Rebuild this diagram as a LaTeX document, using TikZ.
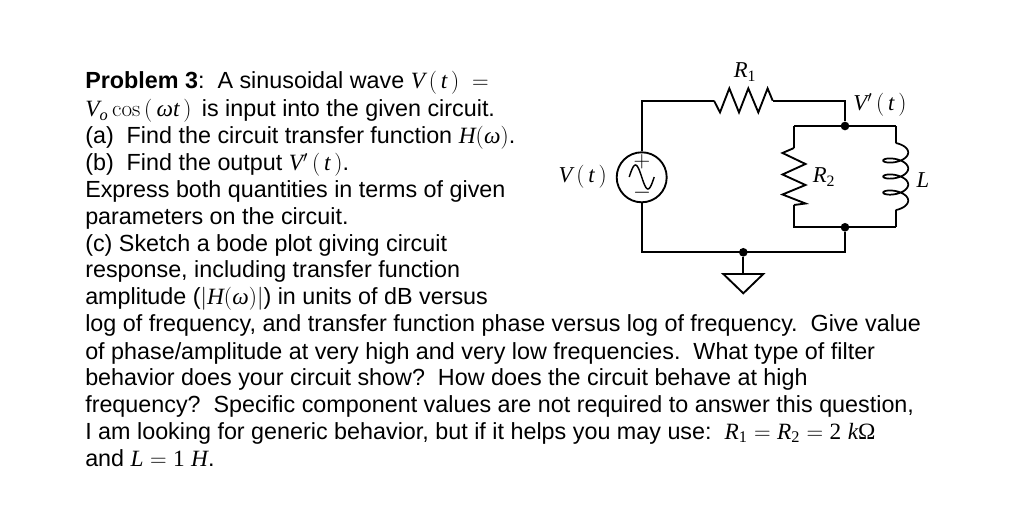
\documentclass[tikz,border=0pt]{standalone}
\usepackage{amsmath}
\usepackage{mathspec}
\setmainfont{Liberation Sans}
\setmathsfont(Digits,Latin,Greek){Liberation Serif}
\usetikzlibrary{positioning,calc}
\tikzstyle{txtline} = [anchor=base west, inner sep=0pt, font=\fontsize{17.5}{21}\selectfont]
\tikzstyle{wire} = [line width=1.4pt, line join=miter]
\tikzstyle{junct} = [circle, fill=black, inner sep=0pt, minimum size=6.5pt]
\tikzstyle{lbl} = [inner sep=0pt, font=\fontsize{17}{20}\selectfont]
\tikzstyle{srcnode} = [circle, draw=black, line width=1.4pt, inner sep=0pt, minimum size=37.5pt]

\begin{document}
\begin{tikzpicture}[x=0.75pt, y=-0.75pt]
        \useasboundingbox (0,0) rectangle (1024,509);

        % Texto
        \node (l1) [txtline] at (85,89) {\textbf{Problem 3}:\ \ A sinusoidal wave $V\,(\,t\,)\;=$};
        \node (l2) [txtline] at (85,117) {$V_o\cos\,(\,\omega t\,)\,$ is input into the given circuit.};
        \node (l3) [txtline] at (85,144) {(a)\ \ Find the circuit transfer function $H(\omega)$.};
        \node (l4) [txtline] at (85,171) {(b)\ \ Find the output $V'\,(\,t\,)$.};
        \node (l5) [txtline] at (85,198) {Express both quantities in terms of given};
        \node (l6) [txtline] at (85,225) {parameters on the circuit.};
        \node (l7) [txtline] at (85,252) {(c) Sketch a bode plot giving circuit};
        \node (l8) [txtline] at (85,278) {response, including transfer function};
        \node (l9) [txtline] at (85,305) {amplitude ($|H(\omega)|$) in units of dB versus};
        \node (l10) [txtline] at (85,332) {log of frequency, and transfer function phase versus log of frequency.\ \ Give value};
        \node (l11) [txtline] at (85,359) {of phase/amplitude at very high and very low frequencies.\ \ What type of filter};
        \node (l12) [txtline] at (85,386) {behavior does your circuit show?\ \ How does the circuit behave at high};
        \node (l13) [txtline] at (85,412) {frequency?\ \ Specific component values are not required to answer this question,};
        \node (l14) [txtline] at (85,439) {I am looking for generic behavior, but if it helps you may use:\ \ $R_1=R_2=2\ k\Omega$};
        \node (l15) [txtline] at (85,466) {and $L=1\ H$.};

        % Blocos
        \node (src) [srcnode] at (641.7,177.3) {};
        \coordinate (tl) at (641.7,100.7);
        \coordinate (r1a) at (714,100.7);
        \coordinate (r1b) at (772.7,100.7);
        \coordinate (tr) at (845,100.7);
        \node (jtop) [junct] at (845,126) {};
        \node (jbot) [junct] at (845,227.3) {};
        \node (jgnd) [junct] at (743.3,252.3) {};
        \coordinate (bl) at (641.7,252.3);
        \coordinate (br) at (845,252.3);
        \coordinate (gnd) at (743.3,274);
        \coordinate (p2t) at (794,126);
        \coordinate (p2b) at (794,227.3);
        \coordinate (r2a) at (794,148);
        \coordinate (r2b) at (794,205);
        \coordinate (p3t) at (895.7,126);
        \coordinate (p3b) at (895.7,227.3);
        \coordinate (la) at (895.7,143);
        \coordinate (lb) at (895.7,210);

        % Linhas
        \draw [wire] (src) -- (tl) -- (r1a);
        \draw [wire] (r1a) -- ++(6,11.7) -- ++(9.3,-24) -- ++(9.7,24) -- ++(9.3,-24) -- ++(10,24) -- ++(9.3,-24) -- (r1b);
        \draw [wire] (r1b) -- (tr) -- (jtop);
        \draw [wire] (p2t) -- (p3t);
        \draw [wire] (p2t) -- (r2a);
        \draw [wire] (r2a) -- ++(-11.5,5) -- ++(23,11) -- ++(-23,10.5) -- ++(23,10.5) -- ++(-23,9.5) -- ++(23,9) -- (r2b);
        \draw [wire] (r2b) -- (p2b) -- (p3b);
        \draw [wire] (p3t) -- (la);
        \draw [line width=1.3pt] plot[smooth, domain=0:1260, samples=140] ({895.7+12.5*sin(\x)},{143+2.55*\x*pi/180+5.5*(1-cos(\x))});
        \draw [wire] (lb) -- (p3b);
        \draw [wire] (jbot) -- (br) -- (bl) -- (src);
        \draw [wire] (jgnd) -- (gnd);
        \draw [wire] (gnd) -- ++(-20,0) -- ++(20,19.3) -- ++(20,-19.3) -- cycle;
        \draw [line width=1.1pt] plot[smooth, domain=-1:1, samples=25] ({641.7+12.5*\x},{177+12*sin(180*\x)});

        % Rotulos
        \node (plus) [lbl] at (642,162) {$+$};
        \node (minus) [lbl] at (642,193) {$-$};
        \node (r1lbl) [lbl] at (745,72) {$R_1$};
        \node (vout) [lbl] at (880,105) {$V'\,(\,t\,)$};
        \node (vin) [lbl] at (582.7,177) {$V\,(\,t\,)$};
        \node (r2lbl) [lbl] at (824,177) {$R_2$};
        \node (llbl) [lbl] at (923,180) {$L$};
    \end{tikzpicture}
\end{document}
